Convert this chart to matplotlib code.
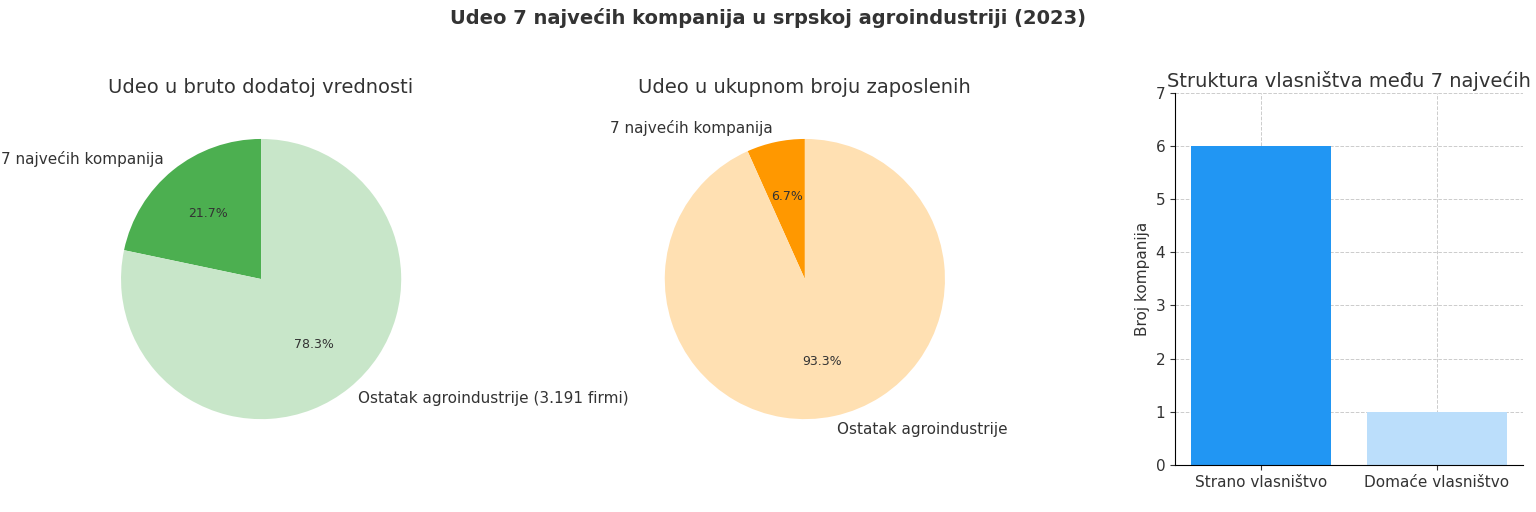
import matplotlib
matplotlib.use("Agg")
import matplotlib.pyplot as plt

pie1_labels = ["7 najvećih kompanija", "Ostatak agroindustrije (3.191 firmi)"]
pie1_values = [21.7, 78.3]
pie2_labels = ["7 najvećih kompanija", "Ostatak agroindustrije"]
pie2_values = [6.7, 93.3]
bar_cats = ["Strano vlasništvo", "Domaće vlasništvo"]
bar_vals = [6, 1]

plt.rcParams['font.family'] = ['DejaVu Sans']
txt = '#333333'
fig = plt.figure(figsize=(15.36, 5.12), dpi=100)
fig.suptitle("Udeo 7 najvećih kompanija u srpskoj agroindustriji (2023)", fontsize=14,
             fontweight='bold', color=txt, y=0.985)

def pie(ax, vals, labels, colors, title):
    _, texts, autos = ax.pie(vals, labels=labels, colors=colors, startangle=90,
                             autopct='%1.1f%%', textprops={'color': txt, 'fontsize': 11})
    for a in autos:
        a.set_fontsize(9)
    ax.set_xlim(-1.25, 1.25); ax.set_ylim(-1.25, 1.25)
    ax.set_aspect('equal')
    ax.set_title(title, fontsize=14, color=txt, pad=8)

ax1 = fig.add_axes([0.056, 0.113, 0.228, 0.684])
pie(ax1, pie1_values, pie1_labels, ['#4caf50', '#c8e6c9'], "Udeo u bruto dodatoj vrednosti")
ax2 = fig.add_axes([0.410, 0.113, 0.228, 0.684])
pie(ax2, pie2_values, pie2_labels, ['#ff9800', '#ffe0b2'], "Udeo u ukupnom broju zaposlenih")

ax3 = fig.add_axes([0.765, 0.092, 0.2266, 0.727])
ax3.bar(bar_cats, bar_vals, color=['#2196f3', '#bbdefb'], width=0.8, zorder=2)
ax3.set_ylim(0, 7)
ax3.set_ylabel("Broj kompanija", fontsize=11, color=txt)
ax3.set_title("Struktura vlasništva među 7 najvećih", fontsize=14, color=txt, pad=4)
ax3.grid(True, linestyle='--', color='#cccccc', linewidth=0.7, zorder=0)
ax3.spines['top'].set_visible(False); ax3.spines['right'].set_visible(False)
ax3.tick_params(labelsize=11, colors=txt)
fig.savefig("out.png", dpi=100)
